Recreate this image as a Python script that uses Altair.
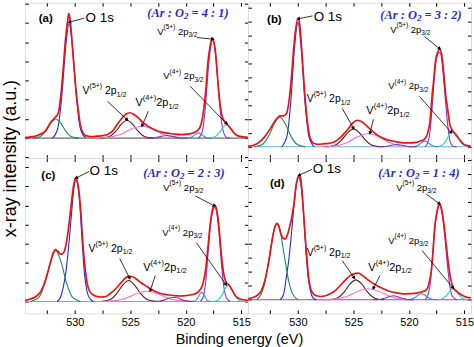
import math
import altair as alt
import pandas as pd

# ---------------- values ----------------
# x = binding energy (eV), y = intensity above background (a.u.)
X_DOMAIN = [534.5, 514.4]
X_TICKS = [532.5, 530.0, 527.5, 525.0, 522.5, 520.0, 517.5, 515.0]
RATIOS = ["4 : 1", "3 : 2", "2 : 3", "1 : 4"]
LETTERS = ["(a)", "(b)", "(c)", "(d)"]

# ----- panel (a) -----
A_RED = [(534.5,0.5),(533.8,1.5),(533.2,3.5),(532.6,8),(532.2,15.5),(531.8,20.5),(531.5,25),(531.27,42),(531.1,62),(530.95,84),(530.8,104),(530.65,118),(530.55,125),(530.45,121),(530.3,104),(530.1,75),(529.9,49),(529.7,29),(529.5,13),(529.3,6),(529.0,2.5),(528.5,1.5),(528.0,2),(527.5,2.5),(527.0,4),(526.6,7),(526.2,13.5),(525.8,19.5),(525.4,24),(525.05,25.5),(524.7,24),(524.3,20.5),(523.9,16),(523.4,12),(522.8,8.5),(522.2,6),(521.6,5),(521.0,4),(520.4,3.5),(519.8,4),(519.3,5.5),(518.9,8),(518.6,15),(518.4,28),(518.2,48),(518.0,77),(517.8,93),(517.6,100.5),(517.45,96),(517.3,84),(517.1,56),(516.9,33),(516.7,21),(516.45,16),(516.2,13),(515.95,9.5),(515.6,4.5),(515.2,2),(514.4,0.8)]
A_O1S = [(532.03,0),(531.55,9.2),(531.17,42.6),(530.84,89.7),(530.52,115),(530.20,89.7),(529.87,42.6),(529.49,9.2),(529.01,0)]
A_O1S_B = [(533.82,0),(533.15,1.5),(532.62,7.1),(532.17,15.1),(531.72,19.3),(531.27,15.1),(530.82,7.1),(530.30,1.5),(529.62,0)]
A_V5_12 = [(527.68,0),(526.92,1.4),(526.32,6.7),(525.81,14),(525.3,18),(524.79,14),(524.28,6.7),(523.69,1.4),(522.92,0)]
A_V4_12 = [(528.15,0),(526.80,1.0),(525.75,4.4),(524.85,9.4),(523.95,12),(523.05,9.4),(522.15,4.4),(521.10,1.0),(519.75,0)]
A_V5_32 = [(518.9,0),(518.6,4),(518.4,14),(518.2,36),(518.0,66),(517.8,88),(517.58,98),(517.4,91),(517.2,68),(517.0,40),(516.8,18),(516.6,6),(516.3,0.5),(516.0,0)]
A_V4_32 = [(517.93,0),(517.41,1.1),(517.01,5.0),(516.67,10.5),(516.32,13.5),(515.97,10.5),(515.63,5.0),(515.23,1.1),(514.71,0)]
A_SAT1 = [(519.98,0),(519.62,0.4),(519.34,2.0),(519.10,4.1),(518.86,5.3),(518.62,4.1),(518.38,2.0),(518.10,0.4),(517.74,0)]
A_SAT2 = [(523.52,0),(522.94,0.2),(522.48,1.0),(522.09,2.1),(521.70,2.7),(521.31,2.1),(520.92,1.0),(520.47,0.2),(519.88,0)]
A_LABELS = [("V5_32",522.57,107),("V4_32",522.03,62),("V5_12",529.30,47),("V4_12",524.54,35)]
A_ARROWS = [(529.16,120.5,530.50,116.5),(519.00,101,517.58,99.5),(519.60,52,516.32,14.5),(527.06,37,525.29,18.5),(523.38,27,523.94,12.5)]
A_TEXT_POS = [(532.62,120),(529.03,121),(523.47,125.5)]

# ----- panel (b) -----
B_RED = [(534.5,0.5),(534.0,1.5),(533.5,4.5),(533.0,10),(532.5,18),(532.1,25.5),(531.8,29.5),(531.6,31),(531.4,31),(531.2,31.5),(531.0,34),(530.8,46),(530.6,67),(530.4,96),(530.2,118),(530.0,129),(529.85,124),(529.7,105),(529.5,72),(529.3,42),(529.1,21),(528.9,9),(528.6,3.5),(528.2,2.5),(527.7,3),(527.2,3.5),(526.8,4.5),(526.3,8),(525.9,12.5),(525.4,19),(525.0,24.5),(524.6,26.7),(524.2,25),(523.8,21),(523.3,16),(522.8,11.5),(522.2,8),(521.7,6.3),(521.1,5),(520.5,4),(519.9,4),(519.3,4.5),(518.9,6),(518.56,8),(518.3,14),(518.1,25),(517.9,52),(517.75,68),(517.6,86),(517.4,95),(517.22,98),(517.05,93),(516.9,79),(516.7,54),(516.47,35),(516.3,22),(516.05,16),(515.8,12.5),(515.42,7),(515.1,3),(514.8,1.5),(514.4,0.8)]
B_O1S = [(531.47,0),(531.00,10),(530.63,46.3),(530.32,97.5),(530.0,125),(529.69,97.5),(529.37,46.3),(529.00,10),(528.53,0)]
B_O1S_B = [(533.94,0),(533.20,2.4),(532.62,11.0),(532.13,23.2),(531.63,29.7),(531.14,23.2),(530.64,11.0),(530.06,2.4),(529.32,0)]
B_V5_12 = [(527.51,0),(526.70,1.4),(526.07,6.7),(525.53,14),(524.99,18),(524.45,14),(523.91,6.7),(523.28,1.4),(522.47,0)]
B_V4_12 = [(527.85,0),(526.50,1.1),(525.45,4.9),(524.55,10.4),(523.65,13.3),(522.75,10.4),(521.85,4.9),(520.80,1.1),(519.45,0)]
B_V5_32 = [(518.55,0),(518.3,4),(518.1,15),(517.9,40),(517.7,70),(517.5,89),(517.22,95),(517.05,89),(516.9,72),(516.7,46),(516.5,22),(516.3,6),(516.0,0.5),(515.7,0)]
B_V4_32 = [(517.56,0),(517.07,1.2),(516.68,5.7),(516.35,12.1),(516.02,15.5),(515.69,12.1),(515.36,5.7),(514.98,1.2),(514.48,0)]
B_SAT1 = [(519.82,0),(519.42,0.5),(519.10,2.1),(518.83,4.4),(518.56,5.7),(518.29,4.4),(518.02,2.1),(517.71,0.5),(517.30,0)]
B_SAT2 = [(522.92,0),(522.34,0.2),(521.88,0.9),(521.49,1.8),(521.10,2.3),(520.71,1.8),(520.32,0.9),(519.87,0.2),(519.28,0)]
B_LABELS = [("V5_32",521.68,117.7),("V4_32",521.86,60.7),("V5_12",529.21,47.7),("V4_12",523.83,35.7)]
B_ARROWS = [(528.67,131.5,529.97,128.5),(518.60,110.7,517.22,98.5),(519.05,50.7,516.18,14.5),(526.0,38.7,524.99,18.5),(523.2,27.7,523.5,13.8)]
B_TEXT_POS = [(532.12,127.7),(528.58,130.7),(522.57,132.7)]

# ----- panel (c) -----
C_RED = [(534.5,1),(534.0,2.5),(533.5,5),(533.06,10),(532.75,18),(532.47,28),(532.2,39),(532.0,47),(531.75,52),(531.5,50),(531.3,47.5),(531.1,48),(530.9,52),(530.7,63),(530.5,80),(530.3,100),(530.1,117),(529.93,124.5),(529.75,119),(529.6,108),(529.45,88),(529.3,62),(529.1,36),(528.9,19),(528.7,11),(528.4,7),(528.0,5),(527.6,4.5),(527.2,5),(526.8,8),(526.3,13),(525.9,18),(525.5,23),(525.15,25.3),(524.8,24.8),(524.4,22),(524.0,18.5),(523.5,15),(523.0,11.5),(522.4,8.5),(521.8,7),(521.1,6),(520.5,5.5),(519.9,6),(519.4,7),(519.0,8.5),(518.7,12),(518.45,18),(518.2,33),(518.0,55),(517.8,78),(517.6,92),(517.38,96.7),(517.2,91),(517.05,79),(516.9,60),(516.75,42),(516.55,26),(516.35,19),(516.1,16.5),(515.85,12),(515.55,6),(515.15,2.7),(514.4,1)]
C_O1S = [(531.6,0),(531.3,4),(531.05,14),(530.8,30),(530.55,56),(530.3,88),(530.1,112),(529.9,122.7),(529.72,116),(529.55,97),(529.35,62),(529.15,30),(528.9,10),(528.6,2),(528.3,0)]
C_O1S_B = [(533.96,0),(533.24,4.1),(532.68,18.9),(532.20,39.8),(531.72,51),(531.24,39.8),(530.76,18.9),(530.20,4.1),(529.48,0)]
C_V5_12 = [(527.67,0),(526.86,1.7),(526.23,7.8),(525.69,16.4),(525.15,21),(524.61,16.4),(524.07,7.8),(523.44,1.7),(522.63,0)]
C_V4_12 = [(527.70,0),(526.35,0.8),(525.30,3.8),(524.40,8.0),(523.50,10.3),(522.60,8.0),(521.70,3.8),(520.65,0.8),(519.30,0)]
C_V5_32 = [(518.7,0),(518.45,4),(518.2,20),(518.0,48),(517.8,74),(517.6,89),(517.37,94.3),(517.2,88),(517.05,75),(516.9,54),(516.75,33),(516.55,13),(516.3,3),(516.0,0)]
C_V4_32 = [(517.57,0),(517.12,1.3),(516.77,5.9),(516.47,12.5),(516.17,16),(515.87,12.5),(515.57,5.9),(515.22,1.3),(514.77,0)]
C_SAT1 = [(519.41,0),(519.14,0.7),(518.93,3.4),(518.75,7.3),(518.57,9.3),(518.39,7.3),(518.21,3.4),(518.00,0.7),(517.73,0)]
C_SAT2 = [(522.92,0),(522.34,0.3),(521.88,1.6),(521.49,3.4),(521.10,4.3),(520.71,3.4),(520.32,1.6),(519.87,0.3),(519.28,0)]
C_LABELS = [("V5_32",522.03,114),("V4_32",522.12,69),("V5_12",528.76,53),("V4_12",523.83,34)]
C_ARROWS = [(528.72,130.5,529.88,124.0),(519.15,106,517.42,96),(519.05,59,516.38,17),(525.95,43,525.06,23.3),(522.75,26,523.2,11)]
C_TEXT_POS = [(532.39,126),(528.67,131),(523.83,129)]

# ----- panel (d) -----
D_RED = [(534.5,1),(534.0,2.5),(533.66,4.5),(533.3,9),(533.06,16),(532.8,28),(532.61,39),(532.4,54),(532.22,66),(532.05,74),(531.87,76.7),(531.7,73),(531.57,67.5),(531.35,62),(531.12,61),(530.95,65),(530.82,70),(530.6,80),(530.37,95),(530.15,116),(529.93,124.3),(529.78,123),(529.63,110),(529.48,86),(529.33,62),(529.18,40),(529.03,22),(528.85,11),(528.58,5.5),(528.3,4),(527.98,3.3),(527.5,4),(527.09,6),(526.6,9.5),(526.19,14.3),(525.7,20),(525.29,24.3),(524.9,26.3),(524.54,26.7),(524.2,24.5),(523.8,21),(523.3,17),(522.9,14.3),(522.3,11),(521.7,8.3),(521.1,7),(520.51,6),(519.9,6.2),(519.31,6.7),(518.85,7.8),(518.42,10),(518.2,16),(517.97,30),(517.8,52),(517.67,73),(517.5,86),(517.37,93),(517.22,96.7),(517.07,92),(516.92,82.7),(516.7,62),(516.47,39),(516.25,22),(516.02,12.7),(515.7,8.5),(515.42,6),(515.1,4),(514.83,2.7),(514.4,2)]
D_O1S = [(531.6,0),(531.3,5),(531.05,22),(530.8,42),(530.55,70),(530.3,100),(530.1,118),(529.93,122.7),(529.75,117),(529.55,95),(529.33,58),(529.1,25),(528.85,8),(528.55,1),(528.3,0)]
D_O1S_B = [(533.7,0),(533.3,6),(533.0,16),(532.7,34),(532.4,56),(532.1,72),(531.87,76),(531.6,70),(531.35,53),(531.1,36),(530.85,20),(530.6,9),(530.3,3),(530.0,0)]
D_V5_12 = [(527.30,0),(526.49,1.6),(525.86,7.4),(525.32,15.6),(524.78,20),(524.24,15.6),(523.70,7.4),(523.07,1.6),(522.26,0)]
D_V4_12 = [(527.85,0),(526.50,0.9),(525.45,4.1),(524.55,8.6),(523.65,11),(522.75,8.6),(521.85,4.1),(520.80,0.9),(519.45,0)]
D_V5_32 = [(518.55,0),(518.3,4),(518.1,14),(517.9,38),(517.7,68),(517.5,86),(517.22,95),(517.05,89),(516.9,78),(516.7,56),(516.5,32),(516.3,13),(516.05,3),(515.7,0)]
D_V4_32 = [(517.42,0),(516.97,0.9),(516.62,4.1),(516.32,8.6),(516.02,11),(515.72,8.6),(515.42,4.1),(515.07,0.9),(514.62,0)]
D_SAT1 = [(520.26,0),(519.81,0.5),(519.46,2.2),(519.16,4.7),(518.86,6),(518.56,4.7),(518.26,2.2),(517.91,0.5),(517.46,0)]
D_SAT2 = [(523.22,0),(522.64,0.3),(522.18,1.5),(521.79,3.1),(521.40,4),(521.01,3.1),(520.62,1.5),(520.17,0.3),(519.58,0)]
D_LABELS = [("V5_32",521.14,112.3),("V4_32",521.86,59.3),("V5_12",529.21,47.3),("V4_12",523.65,32.3)]
D_ARROWS = [(528.72,131,529.9,125),(518.45,106.3,517.25,96.5),(518.8,49.3,516.03,12),(526.0,39.3,524.93,22),(522.6,24.3,523.2,11.5)]
D_TEXT_POS = [(531.85,116.3),(528.67,131.3),(522.75,127.3)]

# ---------------- styling ----------------
PANEL_W, PANEL_H = 224, 156
PXE = PANEL_W / (X_DOMAIN[0] - X_DOMAIN[1])   # px per eV
COMP_KEYS = ["sat2", "sat1", "V4_12", "V5_12", "O1s_b", "V4_32", "V5_32", "O1s"]
COMP_COLORS = ["#7d3aa8", "#2f8cf0", "#ee70dc", "#5c1616", "#23875a", "#1fd4d4", "#8a33d6", "#1f2be0"]
RED = "#ee1111"
FONT = "Liberation Sans"

ARIAL = {"V": 667, "(": 333, ")": 333, "+": 584, "/": 278, " ": 278, "O": 778, "s": 500}
TIMESBI = {"(": 333, ")": 333, "A": 667, "r": 389, " ": 250, ":": 333, "O": 722, "=": 570}

PARTS = {
    "V5_32": [("V", 9.5, 0, 0), ("(5+)", 6.5, 4.5, 0), ("2p", 9.5, 0, 2.6), ("3/2", 6.5, -3.2, 0)],
    "V4_32": [("V", 9.5, 0, 0), ("(4+)", 6.5, 4.5, 0), ("2p", 9.5, 0, 2.6), ("3/2", 6.5, -3.2, 0)],
    "V5_12": [("V", 10.5, 0, 0), ("(5+)", 7.0, 5.0, 0), ("2p", 10.5, 0, 2.9), ("1/2", 7.0, -3.6, 0)],
    "V4_12": [("V", 11.0, 0, 0), ("(4+)", 7.5, 5.0, 0), ("2p", 11.0, 0, 0), ("1/2", 7.5, -3.6, 0)],
}


def part_rows(e0, i0, parts, table, default):
    rows, cx = [], 0.0
    for txt, fs, rise, gap in parts:
        cx += gap
        rows.append({"e": e0 - cx / PXE, "i": i0 + rise, "t": txt, "fs": fs})
        cx += sum(table.get(ch, default) for ch in txt) * fs / 1000.0
    return rows


def pts_df(pts):
    return pd.DataFrame(pts, columns=["e", "i"])


def make_panel(idx, red, comps, base_color, ydom, ytick_step, labels, arrows, tpos,
               bottom_labels, xtitle=False, ytitle=False):
    xs = alt.Scale(domain=X_DOMAIN, nice=False, zero=False)
    ys = alt.Scale(domain=ydom, nice=False, zero=False)
    yvals = [round(k * ytick_step, 2) for k in range(-3, 15) if ydom[0] < k * ytick_step < ydom[1]]

    common = dict(values=X_TICKS, tickSize=3.5, offset=-3.5, domain=False, grid=False,
                  tickColor="black", tickWidth=1, title="")
    xb = dict(common, orient="bottom", labels=bottom_labels)
    if bottom_labels:
        xb.update(labelExpr="datum.value % 5 === 0 ? format(datum.value, 'd') : ''",
                  labelFontSize=11, labelColor="black", labelFont=FONT, labelPadding=3)
    if xtitle:
        xb.update(title="Binding energy (eV)", titleX=215, titleY=33.5, titleAlign="center",
                  titleBaseline="alphabetic", titleFontSize=14.5, titleFontWeight="normal",
                  titleColor="black", titleFont=FONT)
    xt = dict(common, orient="top", labels=False)
    ycommon = dict(values=yvals, tickSize=3.5, offset=-3.5, domain=False, grid=False,
                   labels=False, tickColor="black", tickWidth=1, title="")
    yl = dict(ycommon, orient="left")
    if ytitle:
        yl.update(title="x-ray intensity (a.u.)", titleAngle=270, titleX=-17.5, titleY=156,
                  titleAlign="center", titleBaseline="middle", titleFontSize=18,
                  titleFontWeight="normal", titleColor="black", titleFont=FONT)
    yr = dict(ycommon, orient="right")

    base = alt.Chart(pd.DataFrame({"i": [0.0]})).mark_rule(color=base_color, strokeWidth=1.1).encode(
        y=alt.Y("i:Q", scale=ys, axis=None))

    cdf = pd.concat([pts_df(p).assign(c=k) for k, p in comps.items()], ignore_index=True)
    comp_layer = alt.Chart(cdf).mark_line(interpolate="monotone", strokeWidth=1.1, clip=True).encode(
        x=alt.X("e:Q", scale=xs, axis=alt.Axis(**xb)),
        y=alt.Y("i:Q", scale=ys, axis=alt.Axis(**yl)),
        color=alt.Color("c:N", scale=alt.Scale(domain=COMP_KEYS, range=COMP_COLORS), legend=None),
        detail="c:N",
        order=alt.Order("e:Q", sort="descending"),
    )

    red_layer = alt.Chart(pts_df(red)).mark_line(interpolate="monotone", strokeWidth=1.7,
                                                 color=RED, clip=True).encode(
        x=alt.X("e:Q", scale=xs, axis=alt.Axis(**xt)),
        y=alt.Y("i:Q", scale=ys, axis=alt.Axis(**yr)),
        order=alt.Order("e:Q", sort="descending"),
    )

    adf = pd.DataFrame(arrows, columns=["e", "i", "e2", "i2"])
    adf["ang"] = [(math.degrees(math.atan2(-(r.e2 - r.e) * PXE, (r.i2 - r.i))) + 360) % 360
                  for r in adf.itertuples()]
    arrow_layer = alt.Chart(adf).mark_rule(color="black", strokeWidth=0.8).encode(
        x=alt.X("e:Q", scale=xs, axis=None), y=alt.Y("i:Q", scale=ys, axis=None),
        x2="e2:Q", y2="i2:Q")
    head_layer = alt.Chart(adf).mark_point(shape="triangle-up", filled=True, size=16,
                                           color="black", opacity=1).encode(
        x=alt.X("e2:Q", scale=xs, axis=None), y=alt.Y("i2:Q", scale=ys, axis=None),
        angle=alt.Angle("ang:Q", scale=None))

    lrows = []
    for kind, e0, i0 in labels:
        lrows += part_rows(e0, i0, PARTS[kind], ARIAL, 556)
    lrows.append({"e": tpos[1][0], "i": tpos[1][1], "t": "O 1s", "fs": 13.5})
    lab_layer = alt.Chart(pd.DataFrame(lrows)).mark_text(align="left", baseline="middle",
                                                         color="black", font=FONT).encode(
        x=alt.X("e:Q", scale=xs, axis=None), y=alt.Y("i:Q", scale=ys, axis=None),
        text="t:N", size=alt.Size("fs:Q", scale=None))

    letter_layer = alt.Chart(pd.DataFrame([{"e": tpos[0][0], "i": tpos[0][1], "t": LETTERS[idx]}])).mark_text(
        align="center", baseline="middle", fontWeight="bold", fontSize=11.5, color="black", font=FONT).encode(
        x=alt.X("e:Q", scale=xs, axis=None), y=alt.Y("i:Q", scale=ys, axis=None), text="t:N")

    rparts = [("(Ar : O", 12.5, 0, 0), ("2", 9.0, -3, 0), ("= " + RATIOS[idx] + ")", 12.5, 0, 3.1)]
    rdf = pd.DataFrame(part_rows(tpos[2][0], tpos[2][1], rparts, TIMESBI, 500))
    ratio_layer = alt.Chart(rdf).mark_text(align="left", baseline="middle", font="Liberation Serif",
                                           fontStyle="italic", fontWeight="bold", color="#2a2ad0").encode(
        x=alt.X("e:Q", scale=xs, axis=None), y=alt.Y("i:Q", scale=ys, axis=None),
        text="t:N", size=alt.Size("fs:Q", scale=None))

    return alt.layer(base, comp_layer, red_layer, arrow_layer, head_layer, lab_layer,
                     letter_layer, ratio_layer).resolve_axis(
        x="independent", y="independent").properties(width=PANEL_W, height=PANEL_H)


def comps(o1s, o1sb, v512, v412, v532, v432, s1, s2):
    return {"O1s": o1s, "O1s_b": o1sb, "V5_12": v512, "V4_12": v412,
            "V5_32": v532, "V4_32": v432, "sat1": s1, "sat2": s2}


pa = make_panel(0, A_RED, comps(A_O1S, A_O1S_B, A_V5_12, A_V4_12, A_V5_32, A_V4_32, A_SAT1, A_SAT2),
                "#6b6b6b", [-20, 136], 19.3, A_LABELS, A_ARROWS, A_TEXT_POS, False, ytitle=True)
pb = make_panel(1, B_RED, comps(B_O1S, B_O1S_B, B_V5_12, B_V4_12, B_V5_32, B_V4_32, B_SAT1, B_SAT2),
                "#62b6e8", [-11.3, 144.7], 14, B_LABELS, B_ARROWS, B_TEXT_POS, False)
pc = make_panel(2, C_RED, comps(C_O1S, C_O1S_B, C_V5_12, C_V4_12, C_V5_32, C_V4_32, C_SAT1, C_SAT2),
                "#62b6e8", [-12, 144], 19.3, C_LABELS, C_ARROWS, C_TEXT_POS, True, xtitle=True)
pd_ = make_panel(3, D_RED, comps(D_O1S, D_O1S_B, D_V5_12, D_V4_12, D_V5_32, D_V4_32, D_SAT1, D_SAT2),
                 "#9c45b0", [-13.7, 142.3], 14, D_LABELS, D_ARROWS, D_TEXT_POS, True)

chart = alt.concat(pa, pb, pc, pd_, columns=2, spacing=0, bounds="flush").resolve_scale(
    x="independent", y="independent", color="independent").properties(
    padding={"left": 1, "top": 1, "right": 0, "bottom": 1}, background="white"
).configure_view(stroke="black", strokeWidth=1.2).configure(font=FONT)

chart.save("out.html", embed_options={"renderer": "svg", "actions": False})
